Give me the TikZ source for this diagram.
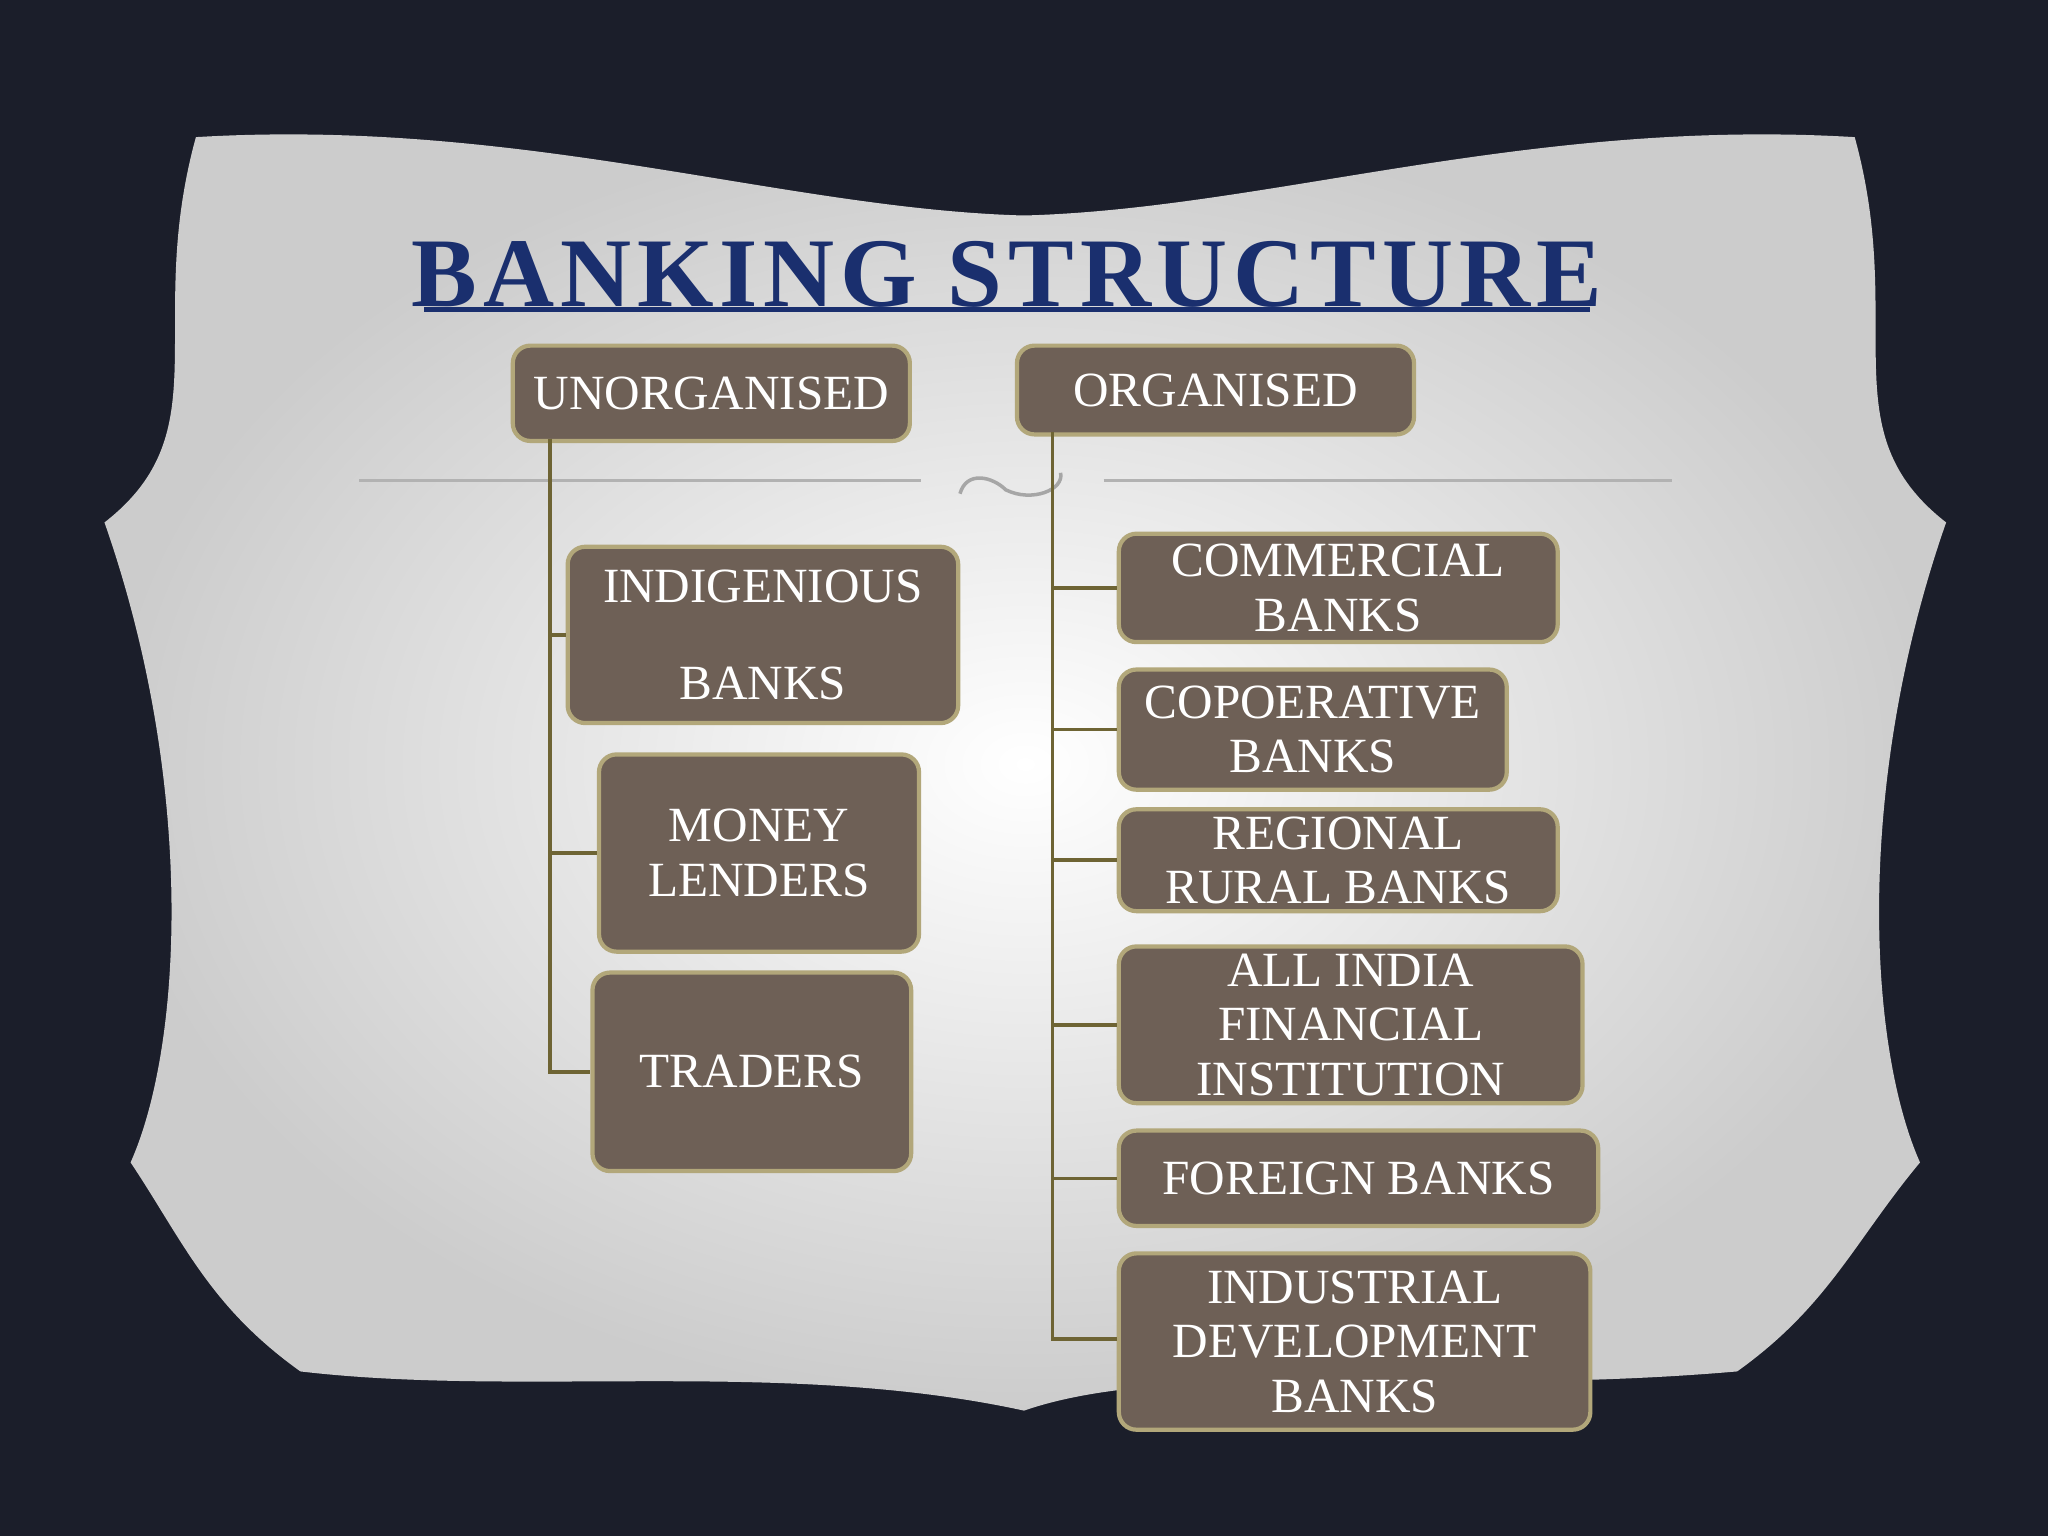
\documentclass[tikz,border=0pt]{standalone}
\usepackage{fontspec}
\setmainfont{Liberation Serif}
\usetikzlibrary{shadings}
\definecolor{bg}{HTML}{1B1E2A}
\definecolor{boxf}{HTML}{6E6056}
\definecolor{boxd}{HTML}{B2A77A}
\definecolor{ttl}{HTML}{1A2F6E}
\definecolor{ln}{HTML}{6E6434}
\tikzset{
 bx/.style={draw=boxd,line width=1.2pt,fill=boxf,rounded corners=5pt,text=white,font=\fontsize{14}{15.5}\selectfont,align=center,inner sep=0pt},
 tick/.style={draw=ln,line width=1pt},
}
\begin{document}
\begin{tikzpicture}[x=0.01306cm,y=-0.01306cm]
\fill[bg] (0,0) rectangle (1568,1176);
\useasboundingbox (0,0) rectangle (1568,1176);
% frame
\shade[inner color=white,outer color=gray!40]
 (150,105) .. controls (400,90) and (600,160) .. (784,165)
 .. controls (970,160) and (1170,90) .. (1420,105)
 .. controls (1460,250) and (1400,330) .. (1490,400)
 .. controls (1420,600) and (1430,800) .. (1470,890)
 .. controls (1420,950) and (1400,1000) .. (1330,1050)
 .. controls (1100,1070) and (900,1040) .. (784,1080)
 .. controls (600,1040) and (400,1070) .. (230,1050)
 .. controls (160,1000) and (140,950) .. (100,890)
 .. controls (140,800) and (150,600) .. (80,400)
 .. controls (170,330) and (110,250) .. (150,105) -- cycle;
% divider
\draw[gray!60,line width=0.8pt] (275,368) -- (705,368) (845,368) -- (1280,368);
\draw[gray!70,line width=1pt] (735,378) .. controls (740,360) and (760,365) .. (770,375) .. controls (790,385) and (815,375) .. (812,362);
% title
\node[text=ttl,font=\fontsize{28}{32}\selectfont\bfseries] (title) at (771,210) {\addfontfeature{LetterSpace=6}BANKING STRUCTURE};
\draw[ttl,line width=1.6pt] (325,237) -- (1217,237);
% boxes
\newcommand\bxat[6]{\node[bx,minimum width={(#4-#2)*0.01306cm},minimum height={(#5-#3)*0.01306cm},anchor=north west] (#1) at (#2,#3) {#6};}
\bxat{un}{391}{263}{695}{336}{UNORGANISED}
\bxat{org}{777}{263}{1081}{331}{ORGANISED}
\bxat{ind}{433}{417}{732}{552}{INDIGENIOUS\\[12pt]BANKS}
\bxat{mon}{457}{576}{702}{727}{MONEY\\LENDERS}
\bxat{tra}{452}{743}{696}{895}{TRADERS}
\bxat{com}{855}{407}{1191}{490}{COMMERCIAL\\BANKS}
\bxat{coo}{855}{511}{1152}{603}{COPOERATIVE\\BANKS}
\bxat{reg}{855}{618}{1191}{696}{REGIONAL\\RURAL BANKS}
\bxat{all}{855}{723}{1210}{843}{ALL INDIA\\FINANCIAL\\INSTITUTION}
\bxat{for}{855}{864}{1222}{937}{FOREIGN BANKS}
\bxat{idb}{855}{958}{1216}{1093}{INDUSTRIAL\\DEVELOPMENT\\BANKS}
% connectors
\coordinate (l0) at (421,336);
\coordinate (r0) at (806,331);
\coordinate (ie) at (855,1025);
\draw[tick] (l0) |- (tra.west);
\draw[tick] (l0) |- (ind.west);
\draw[tick] (l0) |- (mon.west);
\draw[tick] (r0) |- (ie);
\foreach \n in {com,coo,reg,all,for} \draw[tick] (r0) |- (\n.west);
\end{tikzpicture}
\end{document}
